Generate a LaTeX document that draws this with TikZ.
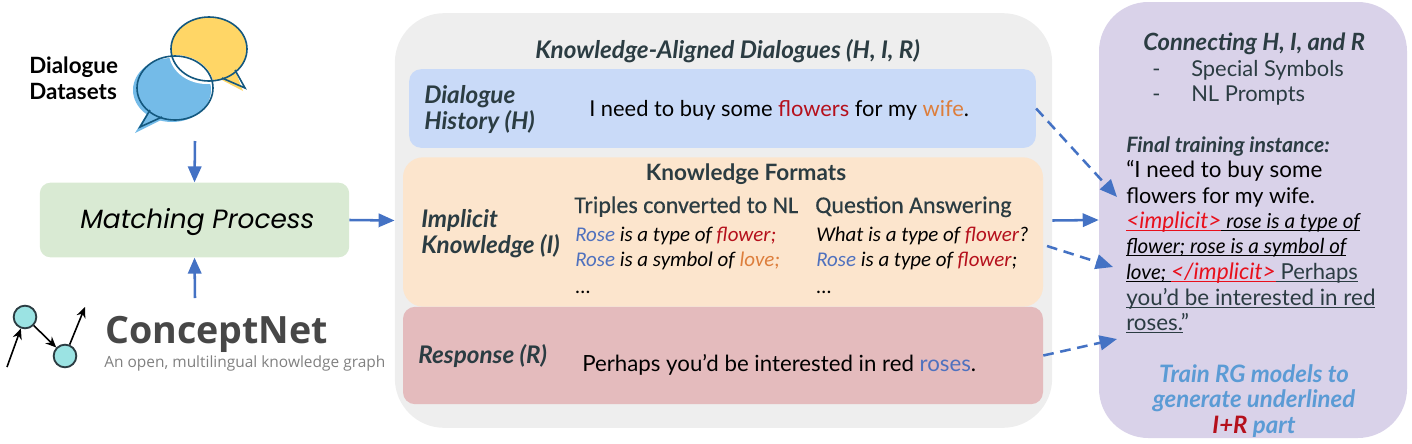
\documentclass[tikz,border=0pt]{standalone}
\usepackage{fontspec}
\setmainfont{Lato}
\newfontfamily\matchfont{Poppins}
\newfontfamily\logofont{Open Sans}
\newfontfamily\rowfont{Carlito}
\newfontfamily\rowheadfont[FakeBold=0.4]{Carlito}
\usetikzlibrary{positioning}
\usetikzlibrary{arrows.meta}
\definecolor{slate}{HTML}{2B3C42}
\definecolor{linkblue}{HTML}{4472C4}
\definecolor{roseblue}{HTML}{4F71BE}
\definecolor{flowerred}{HTML}{B5101C}
\definecolor{wifeorange}{HTML}{DD7E3C}
\definecolor{tagred}{HTML}{E8101C}
\definecolor{trainblue}{HTML}{5B9BD5}
\definecolor{bubbleline}{HTML}{14587F}
\definecolor{panelgray}{HTML}{EEEEEE}
\definecolor{historyfill}{HTML}{C9DAF8}
\definecolor{knowledgefill}{HTML}{FCE5CD}
\definecolor{responsefill}{HTML}{E4BBBD}
\definecolor{connectfill}{HTML}{D9D2E9}
\definecolor{matchfill}{HTML}{D9EAD3}
\definecolor{bubbleyellow}{HTML}{FFD666}
\definecolor{bubbleblue}{HTML}{74BBE8}
\definecolor{nodecyan}{HTML}{9BE3E3}
\newcommand{\fs}[1]{\fontsize{#1}{#1}\selectfont}
\newcommand{\rosew}[1]{\textcolor{roseblue}{#1}}
\newcommand{\flowerw}[1]{\textcolor{flowerred}{#1}}
\newcommand{\tagw}[1]{\textcolor{tagred}{\fs{17}#1}}
\newlength{\ulw}
\newcommand{\ulc}[2]{\settowidth{\ulw}{#2}\rlap{\textcolor{#1}{\rule[-2.6pt]{\ulw}{1pt}}}#2}
\tikzstyle{panel} = [draw=none, rounded corners=37pt, inner sep=0pt]
\tikzstyle{rowbox} = [draw=none, rounded corners=9pt, inner sep=0pt]
\tikzstyle{head} = [anchor=base west, inner sep=0pt, text=slate, font=\fs{18.2}\bfseries\itshape]
\tikzstyle{body} = [anchor=base west, inner sep=0pt, font=\fs{16.4}]
\tikzstyle{inst} = [anchor=base west, inner sep=0pt, font=\fs{15.5}\itshape]
\tikzstyle{rowhead} = [anchor=base west, inner sep=0pt, text=slate, font=\fs{18}\rowheadfont]
\tikzstyle{triple} = [anchor=base west, inner sep=0pt, font=\fs{15.7}\rowfont\itshape]
\tikzstyle{train} = [anchor=base, inner sep=0pt, font=\fs{18}\bfseries\itshape, text=trainblue]
\tikzstyle{link} = [draw=linkblue, line width=1.9pt, -{Triangle[length=12pt,width=10pt]}]
\tikzstyle{dlink} = [link, dash pattern=on 8pt off 5pt, -{Triangle[length=13pt,width=11pt]}]
\tikzstyle{edge} = [draw=black, line width=1.2pt, -{Stealth[length=8pt,width=7pt]}]
\tikzstyle{gnode} = [circle, draw=slate, fill=nodecyan, line width=1.4pt, minimum size=17pt, inner sep=0pt]
\begin{document}
\begin{tikzpicture}[x=0.75pt,y=-0.75pt]
	\useasboundingbox (0,0) rectangle (1412,443);

	% place boxes
	\node [panel, fill=panelgray, minimum width=493pt, minimum height=311pt] (aligned) at (723.5,220.5) {};
	\node [rowbox, fill=historyfill, minimum width=470pt, minimum height=59pt] (history) at (722.5,108.5) {};
	\node [rowbox, rounded corners=15pt, fill=knowledgefill, minimum width=480pt, minimum height=112pt] (knowledge) at (723,232) {};
	\node [rowbox, fill=responsefill, minimum width=480pt, minimum height=73pt] (response) at (723,355.5) {};
	\node [panel, fill=connectfill, minimum width=231pt, minimum height=327pt] (connect) at (1253,220) {};
	\node [rowbox, rounded corners=8pt, fill=matchfill, minimum width=232pt, minimum height=56pt] (matching) at (194.5,220) {};

	% speech bubbles
	\fill [bubbleyellow] (209,49) ellipse [x radius=38, y radius=32];
	\fill [bubbleyellow] (235,70) -- (243,91) -- (218,78) -- cycle;
	\fill [bubbleblue] (172,90) ellipse [x radius=39, y radius=32];
	\fill [bubbleblue] (148,112) -- (135,133) -- (165,118) -- cycle;
	\begin{scope}
		\clip (175,88) ellipse [x radius=39, y radius=33];
		\fill [white] (207,52) ellipse [x radius=38, y radius=32];
	\end{scope}
	\draw [bubbleline, line width=1.2pt] (235,70) -- (245,88) -- (222,78);
	\draw [bubbleline, line width=1.2pt] (150,110) -- (140,127) -- (162,117);
	\draw [bubbleline, line width=1.2pt] (209,49) ellipse [x radius=38, y radius=32];
	\draw [bubbleline, line width=1.2pt] (175,88) ellipse [x radius=38, y radius=32];

	% left column text
	\node [anchor=base west, inner sep=0pt, font=\fs{16.8}\bfseries] (dialoguelabel) at (29,73) {Dialogue};
	\node [anchor=base west, inner sep=0pt, font=\fs{16.8}\bfseries] (datasetslabel) at (29,99) {Datasets};
	\node [anchor=base west, inner sep=0pt, font=\fs{19.8}\matchfont\itshape] (matchtext) at (80,228) {Matching Process};
	\node [anchor=base west, inner sep=0pt, font=\fs{28.2}\logofont\bfseries, text=black!72] (cnet) at (105,343) {ConceptNet};
	\node [anchor=base west, inner sep=0pt, font=\fs{11.6}\logofont, text=black!50] (cnetsub) at (104,367) {An open, multilingual knowledge graph};

	% small graph
	\node [gnode] (G1) at (25,317) {};
	\node [gnode] (G2) at (65,356) {};
	\coordinate (G0) at (7,367);
	\coordinate (G3) at (85,307);

	% middle text
	\node [head] (title) at (535,58) {Knowledge-Aligned Dialogues (H, I, R)};
	\node [head] (historylabel1) at (424,103) {Dialogue};
	\node [head] (historylabel2) at (424,129) {History (H)};
	\node [body] (historytext) at (589,116) {I need to buy some \flowerw{flowers} for my \textcolor{wifeorange}{wife}.};
	\node [head, font=\fs{16.9}\bfseries, anchor=base] (formats) at (746,180) {Knowledge Formats};
	\node [head] (implicitlabel1) at (421,227) {Implicit};
	\node [head] (implicitlabel2) at (421,253) {Knowledge (I)};
	\node [rowhead] (triples) at (574,213) {Triples converted to NL};
	\node [rowhead] (qa) at (815,213) {Question Answering};
	\node [triple] (tripleA) at (575,241) {\rosew{Rose} is a type of \flowerw{flower;}};
	\node [triple] (tripleB) at (575,266) {\rosew{Rose} is a symbol of \textcolor{wifeorange}{love;}};
	\node [triple] (tripleC) at (575,293) {...};
	\node [triple] (qaA) at (816,241) {What is a type of \flowerw{flower}?};
	\node [triple] (qaB) at (816,266) {\rosew{Rose} is a type of \flowerw{flower};};
	\node [triple] (qaC) at (816,293) {...};
	\node [head] (responselabel) at (418,363) {Response (R)};
	\node [body, font=\fs{16.7}] (responsetext) at (582,371) {Perhaps you'd be interested in red \rosew{roses}.};

	% right text
	\node [head, font=\fs{17.8}\bfseries\itshape] (connecttitle) at (1143,50) {Connecting H, I, and R};
	\node [body, text=slate] (dash1) at (1152,76) {-};
	\node [body, text=slate] (symbols) at (1191,76) {Special Symbols};
	\node [body, text=slate] (dash2) at (1152,101) {-};
	\node [body, text=slate] (prompts) at (1191,101) {NL Prompts};
	\node [head, font=\fs{15.9}\bfseries\itshape] (finaltitle) at (1126,152) {Final training instance:};
	\node [body, font=\fs{16.8}] (line1) at (1126,177) {``I need to buy some};
	\node [body, font=\fs{16.2}] (line2) at (1126,203) {flowers for my wife.};
	\node [inst] (line3) at (1126,228) {\ulc{tagred}{\tagw{<implicit>}}\ulc{black}{ rose is a type of}};
	\node [inst] (line4) at (1126,253) {\ulc{black}{flower; rose is a symbol of}};
	\node [inst] (line5) at (1126,279) {\ulc{black}{love; }\ulc{tagred}{\tagw{</implicit>}}\ulc{slate}{ \textcolor{slate}{\fs{16.5}\upshape Perhaps}}};
	\node [body, font=\fs{16.8}, text=slate] (line6) at (1126,305) {\ulc{slate}{you'd be interested in red}};
	\node [body, font=\fs{16.8}, text=slate] (line7) at (1126,330) {\ulc{slate}{roses.}''};
	\node [train] (trainA) at (1254,382) {Train RG models to};
	\node [train] (trainB) at (1254,407) {generate underlined};
	\node [train] (trainC) at (1254,433) {\textcolor{flowerred}{I+R} part};

	% free ends of the arrows
	\coordinate (bubbles) at (195,141);
	\coordinate (logo) at (195,298);
	\coordinate (I1) at (1117,197);
	\coordinate (I0) at (1047,246);
	\coordinate (I2) at (1113,267);
	\coordinate (I3) at (1117,339);

	% draw edges
	\path [link] (bubbles) -- (matching.north);
	\path [link] (logo) -- (matching.south);
	\path [link] (matching.east) -- (aligned.west);
	\path [link] (aligned.east) -- (connect.west);
	\path [dlink] (history.east) -- (I1);
	\path [dlink] (I0) -- (I2);
	\path [dlink] (response.east) -- (I3);
	\path [edge] (G0) -- (G1);
	\path [edge] (G1) -- (G2);
	\path [edge] (G2) -- (G3);
\end{tikzpicture}
\end{document}
